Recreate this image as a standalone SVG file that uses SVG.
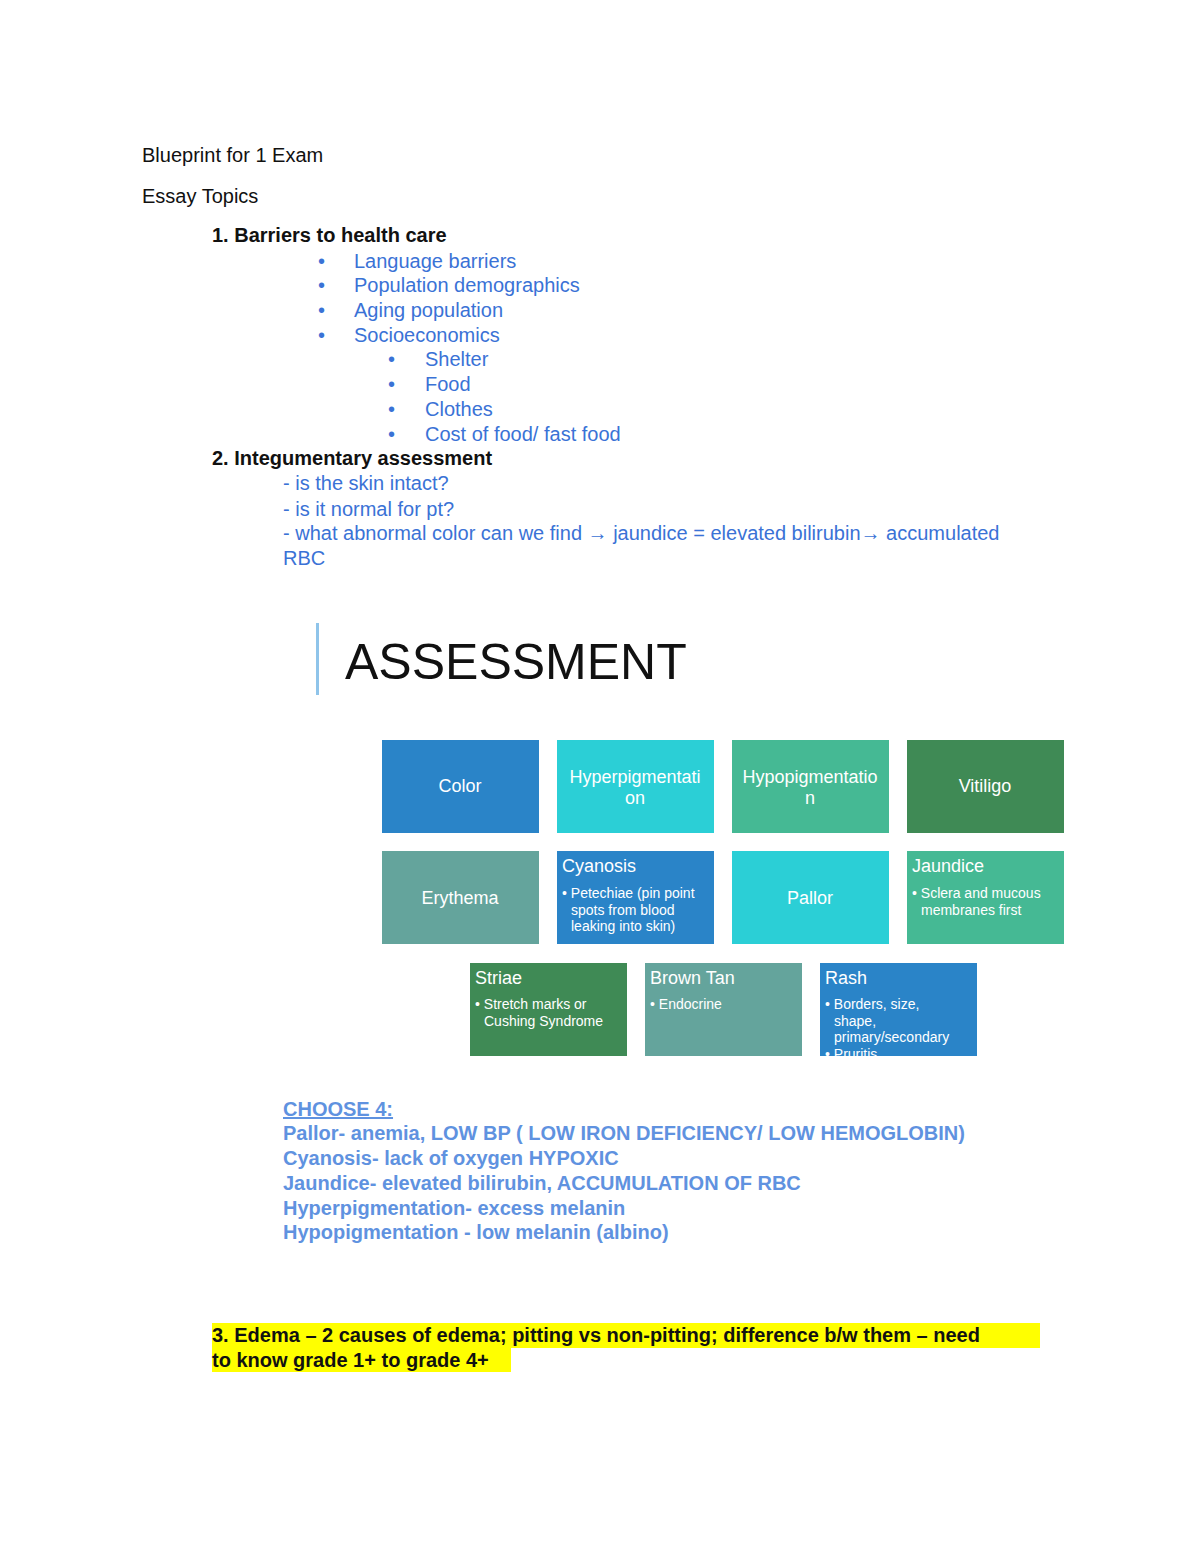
<svg xmlns="http://www.w3.org/2000/svg" width="1200" height="1553" viewBox="0 0 1200 1553">
<style>
text{font-family:"Liberation Sans",Arial,sans-serif}
.k{fill:#111;font-size:20px}
.b{fill:#111;font-size:20px;font-weight:bold}
.l{fill:#3a72d6;font-size:20px}
.c{fill:#5f92e0;font-size:20px;font-weight:bold}
.bt{fill:#fff;font-size:18px}
.bs{fill:#fff;font-size:14px}
</style>
<defs><clipPath id="cr"><rect x="820" y="963" width="157" height="93"/></clipPath></defs>
<rect width="1200" height="1553" fill="#fff"/>
<text class="k" x="142" y="162">Blueprint for 1 Exam</text>
<text class="k" x="142" y="203">Essay Topics</text>
<text class="b" x="212" y="242">1. Barriers to health care</text>
<g class="l">
<text x="318" y="268">•</text><text x="354" y="268">Language barriers</text>
<text x="318" y="292">•</text><text x="354" y="292">Population demographics</text>
<text x="318" y="317">•</text><text x="354" y="317">Aging population</text>
<text x="318" y="342">•</text><text x="354" y="342">Socioeconomics</text>
<text x="388" y="366">•</text><text x="425" y="366">Shelter</text>
<text x="388" y="391">•</text><text x="425" y="391">Food</text>
<text x="388" y="416">•</text><text x="425" y="416">Clothes</text>
<text x="388" y="441">•</text><text x="425" y="441">Cost of food/ fast food</text>
</g>
<text class="b" x="212" y="465">2. Integumentary assessment</text>
<g class="l">
<text x="283" y="490">- is the skin intact?</text>
<text x="283" y="516">- is it normal for pt?</text>
<text x="283" y="540">- what abnormal color can we find → jaundice = elevated bilirubin→ accumulated</text>
<text x="283" y="565">RBC</text>
</g>
<rect x="316" y="623" width="3" height="72" fill="#8fc4ea"/>
<text x="345" y="679" font-size="50" fill="#111">ASSESSMENT</text>
<g id="n-color"><rect x="382" y="740" width="157" height="93" fill="#2a84c8"/><text class="bt" x="460" y="792" text-anchor="middle">Color</text></g>
<g id="n-hyper"><rect x="557" y="740" width="157" height="93" fill="#2bcfd6"/><text class="bt" x="635" y="783" text-anchor="middle">Hyperpigmentati</text><text class="bt" x="635" y="804" text-anchor="middle">on</text></g>
<g id="n-hypo"><rect x="732" y="740" width="157" height="93" fill="#45b994"/><text class="bt" x="810" y="783" text-anchor="middle">Hypopigmentatio</text><text class="bt" x="810" y="804" text-anchor="middle">n</text></g>
<g id="n-vit"><rect x="907" y="740" width="157" height="93" fill="#3f8a55"/><text class="bt" x="985" y="792" text-anchor="middle">Vitiligo</text></g>
<g id="n-ery"><rect x="382" y="851" width="157" height="93" fill="#64a49c"/><text class="bt" x="460" y="904" text-anchor="middle">Erythema</text></g>
<g id="n-cyan"><rect x="557" y="851" width="157" height="93" fill="#2a84c8"/><text class="bt" x="562" y="872">Cyanosis</text><text class="bs" x="562" y="898">• Petechiae (pin point</text><text class="bs" x="571" y="915">spots from blood</text><text class="bs" x="571" y="931">leaking into skin)</text></g>
<g id="n-pallor"><rect x="732" y="851" width="157" height="93" fill="#2bcfd6"/><text class="bt" x="810" y="904" text-anchor="middle">Pallor</text></g>
<g id="n-jaun"><rect x="907" y="851" width="157" height="93" fill="#45b994"/><text class="bt" x="912" y="872">Jaundice</text><text class="bs" x="912" y="898">• Sclera and mucous</text><text class="bs" x="921" y="915">membranes first</text></g>
<g id="n-striae"><rect x="470" y="963" width="157" height="93" fill="#3f8a55"/><text class="bt" x="475" y="984">Striae</text><text class="bs" x="475" y="1009">• Stretch marks or</text><text class="bs" x="484" y="1026">Cushing Syndrome</text></g>
<g id="n-tan"><rect x="645" y="963" width="157" height="93" fill="#64a49c"/><text class="bt" x="650" y="984">Brown Tan</text><text class="bs" x="650" y="1009">• Endocrine</text></g>
<g id="n-rash"><rect x="820" y="963" width="157" height="93" fill="#2a84c8"/><g clip-path="url(#cr)"><text class="bt" x="825" y="984">Rash</text><text class="bs" x="825" y="1009">• Borders, size,</text><text class="bs" x="834" y="1026">shape,</text><text class="bs" x="834" y="1042">primary/secondary</text><text class="bs" x="825" y="1059">• Pruritis</text></g></g>
<g id="connectors"/>
<g class="c">
<text x="283" y="1116" text-decoration="underline">CHOOSE 4: </text>
<text x="283" y="1140">Pallor- anemia, LOW BP ( LOW IRON DEFICIENCY/ LOW HEMOGLOBIN)</text>
<text x="283" y="1165">Cyanosis- lack of oxygen HYPOXIC</text>
<text x="283" y="1190">Jaundice- elevated bilirubin, ACCUMULATION OF RBC</text>
<text x="283" y="1215">Hyperpigmentation- excess melanin</text>
<text x="283" y="1239">Hypopigmentation - low melanin (albino)</text>
</g>
<rect x="212" y="1323" width="828" height="25" fill="#ffff00"/>
<rect x="212" y="1348" width="299" height="24" fill="#ffff00"/>
<text class="b" x="212" y="1342">3. Edema – 2 causes of edema; pitting vs non-pitting; difference b/w them – need</text>
<text class="b" x="212" y="1367">to know grade 1+ to grade 4+</text>
</svg>
